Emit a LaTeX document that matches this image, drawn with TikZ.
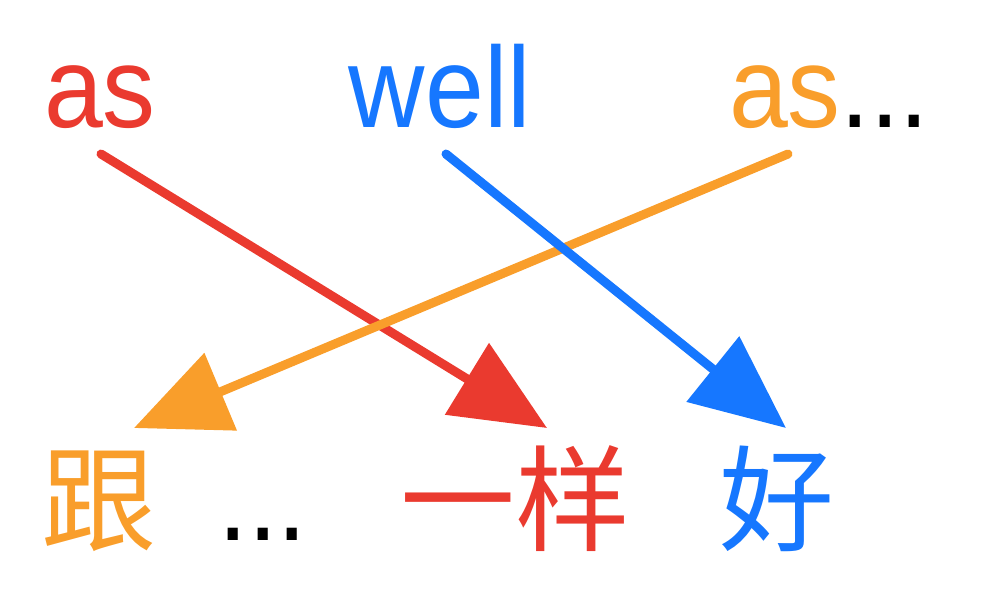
\documentclass[tikz,border=0pt]{standalone}
\usepackage{fontspec}
\setmainfont{Liberation Sans}
\newfontfamily\cjk{Noto Sans CJK SC}
\usetikzlibrary{arrows.meta}

\definecolor{wordred}{RGB}{234,58,47}
\definecolor{wordblue}{RGB}{22,119,255}
\definecolor{wordorange}{RGB}{249,158,43}

\begin{document}
\begin{tikzpicture}[
    x = 1pt, y = -1pt,
    every node/.style = {inner sep = 0pt, anchor = base},
    en/.style = {font = \fontsize{115}{115}\selectfont, xscale = 0.92},
    zh/.style = {font = \fontsize{115}{115}\selectfont\cjk},
    link/.style = {line width = 9pt, line cap = round,
        -{Triangle[length = 94pt, width = 82pt]}}]

\useasboundingbox (0,0) rectangle (984,600);

% english words
\node[en, text = wordred]  (as-red)    at (100,127) {as};
\node[en, text = wordblue] (well)      at (440,127) {well};
\node[en]                  (as-orange) at (829,127) {\textcolor{wordorange}{as}...};

% chinese words
\node[zh, text = wordorange] (gen)    at (99,542)  {跟};
\node[en]                    (dots)   at (263,540) {...};
\node[zh, text = wordred]    (yiyang) at (515,542) {一样};
\node[zh, text = wordblue]   (hao)    at (777,542) {好};

% arrow ends
\coordinate (as-red-out)    at (101,154);
\coordinate (well-out)      at (446,154);
\coordinate (as-orange-out) at (788,154);
\coordinate (yiyang-in)     at (547,428);
\coordinate (hao-in)        at (786,428);
\coordinate (gen-in)        at (134,428);

\draw[link, wordred]    (as-red-out)    -- (yiyang-in);
\draw[link, wordorange] (as-orange-out) -- (gen-in);
\draw[link, wordblue]   (well-out)      -- (hao-in);
\end{tikzpicture}
\end{document}
